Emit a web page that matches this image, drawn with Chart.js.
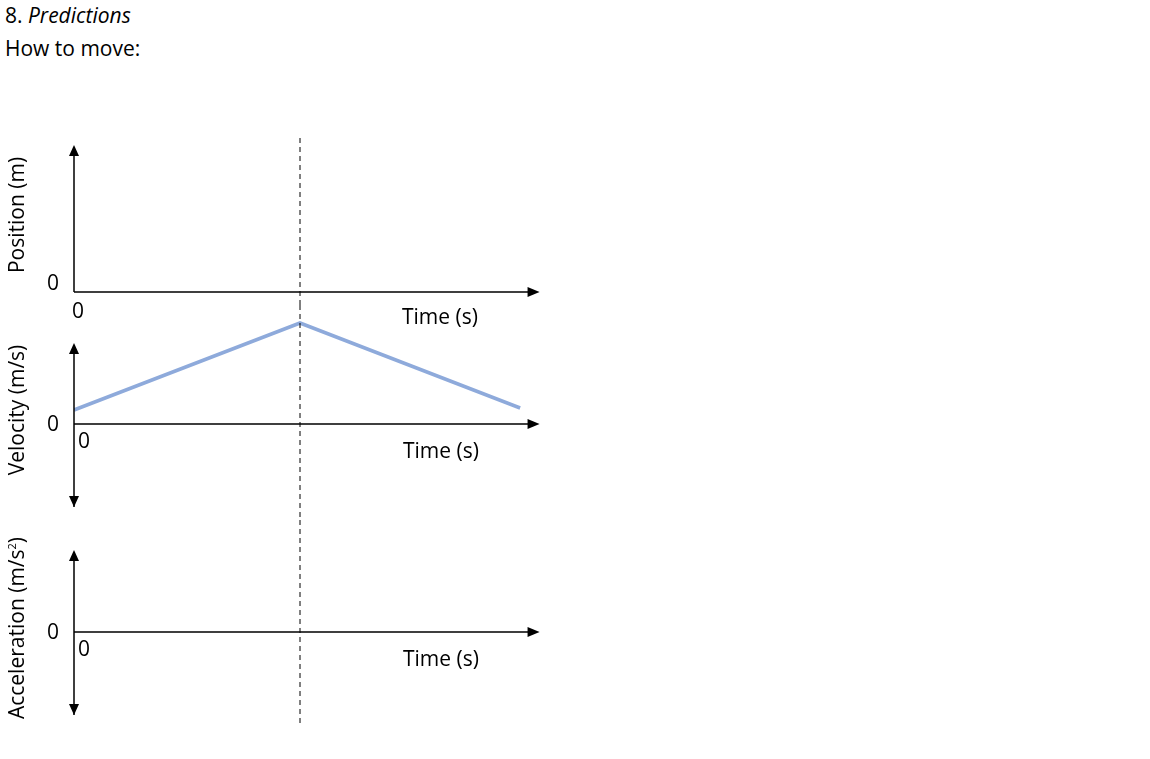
<!DOCTYPE html>
<html>
<head>
<meta charset="utf-8">
<script src="https://cdn.jsdelivr.net/npm/chart.js@4"></script>
<style>
  body { margin: 0; background: #fff; font-family: "Open Sans", "Liberation Sans", sans-serif; }
  #page { position: relative; width: 1150px; height: 759px; }
  canvas { position: absolute; left: 0; }
  .txt { position: absolute; font-size: 21px; color: #000; white-space: nowrap; line-height: 1; }
  .rot { transform: translate(-50%, -50%) rotate(-90deg); }
</style>
</head>
<body>
<div id="page">
  <div class="txt" style="left:5px;top:5px">8. <i>Predictions</i></div>
  <div class="txt" style="left:5px;top:38px">How to move:</div>

  <canvas id="posChart" style="top:130px" width="560" height="175"></canvas>
  <canvas id="velChart" style="top:305px" width="560" height="215"></canvas>
  <canvas id="accChart" style="top:520px" width="560" height="212"></canvas>

  <div class="txt rot" style="left:16px;top:215px">Position (m)</div>
  <div class="txt" style="left:47px;top:272px">0</div>
  <div class="txt" style="left:72px;top:300px">0</div>
  <div class="txt" style="left:402px;top:306px">Time (s)</div>

  <div class="txt rot" style="left:16px;top:410px">Velocity (m/s)</div>
  <div class="txt" style="left:47px;top:413px">0</div>
  <div class="txt" style="left:78px;top:430px">0</div>
  <div class="txt" style="left:403px;top:440px">Time (s)</div>

  <div class="txt rot" style="left:16px;top:628px">Acceleration (m/s<sup style="font-size:11px">2</sup>)</div>
  <div class="txt" style="left:47px;top:621px">0</div>
  <div class="txt" style="left:78px;top:638px">0</div>
  <div class="txt" style="left:403px;top:648px">Time (s)</div>
</div>

<script>
// time axis (arbitrary units), dashed marker halfway
const timeMin = 0;
const timeMax = 10;
const timeArrow = 10.3;
const timeMarker = 5;

// velocity sketch: time points and values
const velTimes = [0, 5, 9.87];
const velValues = [14, 101, 16];

/*
 * 축, 화살표, 점선을 그리는 플러그인
 * opts: top / bottom = y 화살표 끝 값 (bottom null 이면 0 에서 끝), dashTop = 점선 시작 px
 */
const axesPlugin = {
  id: 'sketchAxes',
  afterDraw(chart, args, opts) {
    const ctx = chart.ctx;
    const x = chart.scales.x, y = chart.scales.y;
    const x0 = x.getPixelForValue(0), y0 = y.getPixelForValue(0);
    const xEnd = x.getPixelForValue(timeArrow);
    const yTop = y.getPixelForValue(opts.top);
    const yBot = opts.bottom == null ? y0 : y.getPixelForValue(opts.bottom);
    ctx.save();
    ctx.strokeStyle = '#000';
    ctx.fillStyle = '#000';
    ctx.lineWidth = 1.5;
    ctx.beginPath();
    ctx.moveTo(x0, yBot); ctx.lineTo(x0, yTop + 8);
    ctx.moveTo(x0, y0); ctx.lineTo(xEnd - 8, y0);
    ctx.stroke();
    const tri = (a, b, c, d, e, f) => { ctx.beginPath(); ctx.moveTo(a, b); ctx.lineTo(c, d); ctx.lineTo(e, f); ctx.closePath(); ctx.fill(); };
    tri(x0, yTop, x0 - 5, yTop + 11, x0 + 5, yTop + 11);
    if (opts.bottom != null) tri(x0, yBot, x0 - 5, yBot - 11, x0 + 5, yBot - 11);
    tri(xEnd, y0, xEnd - 12, y0 - 5, xEnd - 12, y0 + 5);
    // dashed marker
    const xm = x.getPixelForValue(timeMarker);
    ctx.lineWidth = 1;
    ctx.setLineDash([5, 4]);
    ctx.beginPath();
    ctx.moveTo(xm, opts.dashTop || 0);
    ctx.lineTo(xm, opts.dashBottom || chart.height);
    ctx.stroke();
    ctx.restore();
  }
};

const makeChart = function (id, yMin, yMax, datasets, axisOpts) {
  return new Chart(document.getElementById(id), {
    type: 'line',
    data: { datasets: datasets },
    options: {
      responsive: false,
      animation: false,
      layout: { padding: { left: 74, right: 34, top: 0, bottom: 0 } },
      scales: {
        x: { type: 'linear', min: timeMin, max: timeMax, display: false },
        y: { min: yMin, max: yMax, display: false }
      },
      plugins: { legend: { display: false }, tooltip: { enabled: false }, sketchAxes: axisOpts }
    },
    plugins: [axesPlugin]
  });
};

makeChart('posChart', -13, 162, [], { top: 147, bottom: null, dashTop: 8 });

makeChart('velChart', -96, 119, [{
  data: velTimes.map((t, i) => ({ x: t, y: velValues[i] })),
  borderColor: '#8eaadb',
  borderWidth: 3.5,
  pointRadius: 0,
  tension: 0
}], { top: 81, bottom: -83 });

makeChart('accChart', -100, 112, [], { top: 82, bottom: -83, dashBottom: 205 });
</script>
</body>
</html>
